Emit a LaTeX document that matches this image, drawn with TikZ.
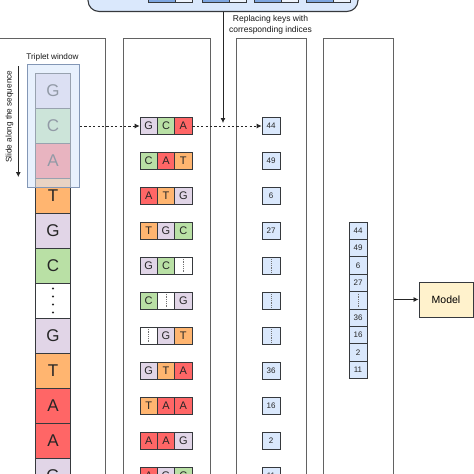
\documentclass[tikz,border=0pt]{standalone}
\usepackage{fontspec}
\setmainfont{Liberation Sans}
\usetikzlibrary{arrows.meta}
\definecolor{cG}{HTML}{E1D5E7}
\definecolor{cC}{HTML}{B9E0A5}
\definecolor{cA}{HTML}{FF6666}
\definecolor{cT}{HTML}{FFB570}
\definecolor{cD}{HTML}{FFFFFF}
\definecolor{cIdx}{HTML}{DAE8FC}
\definecolor{cKey}{HTML}{7EA6E0}
\definecolor{cVal}{HTML}{EEF4FD}
\definecolor{cModel}{HTML}{FFF2CC}
\definecolor{cBorder}{HTML}{36393D}
\definecolor{cPanel}{HTML}{626262}
\definecolor{cWin}{HTML}{DAE8FC}
\definecolor{cWinB}{HTML}{8397B6}
\newcommand\ltG{G}
\newcommand\ltC{C}
\newcommand\ltA{A}
\newcommand\ltT{T}
\newcommand\ltD{}
\tikzset{
  seqcell/.style={draw=cBorder, line width=0.9pt, minimum width=35pt, minimum height=35pt, inner sep=0pt, font=\fontsize{17}{17}\selectfont, text=black!85},
  tricell/.style={draw=cBorder, line width=0.8pt, minimum width=17.33pt, minimum height=17.5pt, inner sep=0pt, font=\fontsize{11}{11}\selectfont, text=black!85},
  idxcell/.style={draw=cBorder, fill=cIdx, line width=0.8pt, minimum width=18pt, minimum height=17.5pt, inner sep=0pt, font=\fontsize{8}{8}\selectfont, text=black!85},
  stackcell/.style={idxcell, minimum height=17.4pt},
  panel/.style={draw=cPanel, line width=1.3pt, inner sep=0pt, anchor=north west, minimum height=480pt},
  keycell/.style={draw=cBorder, line width=0.8pt, fill=cKey, inner sep=0pt, minimum height=30pt, anchor=south west},
  valcell/.style={keycell, fill=cVal},
  flow/.style={-{Latex[length=5pt,width=5pt]}, line width=0.8pt, draw=black!85},
  dotflow/.style={flow, dash pattern=on 2.2pt off 2.2pt},
  finedots/.style={draw=black!55, line width=0.6pt, dash pattern=on 0.6pt off 1.2pt},
  bigdots/.style={draw=black!85, line width=2.2pt, line cap=round, dash pattern=on 0pt off 8pt},
  lab/.style={font=\fontsize{8.2}{10.5}\selectfont, text=black!90, inner sep=0pt, align=center},
}
\begin{document}
\begin{tikzpicture}[x=1pt, y=-1pt]
\useasboundingbox (0,0) rectangle (474,474);
\clip (0,0) rectangle (474,474);
\fill[white] (0,0) rectangle (474,474);

% encoder box at top
\node[draw=cBorder, fill=cIdx, rounded corners=11pt, line width=1.1pt, minimum width=270pt, minimum height=60pt, anchor=south, inner sep=0pt] (enc) at (223,12) {};
\foreach \x [count=\j] in {148,201.5,253.5,306}{
  \node[keycell, minimum width=27pt] (kd\j) at (\x,3) {};
  \node[valcell, minimum width=17pt] (kl\j) at (\x+27,3) {};
}

% panels
\node[panel, minimum width=108pt] (p1) at (-3,38) {};
\node[panel, minimum width=87pt] (p2) at (123,38) {};
\node[panel, minimum width=70pt] (p3) at (236,38) {};
\node[panel, minimum width=70pt] (p4) at (323,38) {};

% sequence
\foreach \L/\c [count=\i from 0] in {G/cG, C/cC, A/cA, T/cT, G/cG, C/cC, {}/cD, G/cG, T/cT, A/cA, A/cA, G/cG}
  \node[seqcell, fill=\c] (s\i) at (53, 91+35*\i) {\L};
\draw[bigdots] ([yshift=-5.5pt]s6.north) -- ([yshift=5.5pt]s6.south);

% triplet window
\node[draw=cWinB, fill=cWin, fill opacity=0.6, line width=0.9pt, minimum width=52.3pt, minimum height=122.4pt, anchor=north west, inner sep=0pt] (win) at (26.7,64.3) {};
\node[lab] (winlab) at (52.5,57.5) {Triplet window};

% slide arrow
\coordinate (sa) at (18.3,66);
\coordinate (sb) at (18.3,177);
\draw[flow] (sa) -- (sb);
\node[lab, rotate=90] (slab) at (9.5,116.7) {Slide along the sequence};

% triplets
\foreach \a/\b/\c [count=\r from 0] in {G/C/A, C/A/T, A/T/G, T/G/C, G/C/D, C/D/G, D/G/T, G/T/A, T/A/A, A/A/G, A/G/C}{
  \node[tricell, fill=c\a] (ta\r) at (148.67, 126+35*\r) {\csname lt\a\endcsname};
  \node[tricell, fill=c\b] (tb\r) at (166, 126+35*\r) {\csname lt\b\endcsname};
  \node[tricell, fill=c\c] (tc\r) at (183.33, 126+35*\r) {\csname lt\c\endcsname};
}
\draw[finedots] ([yshift=-2pt]tc4.north) -- ([yshift=2pt]tc4.south);
\draw[finedots] ([yshift=-2pt]tb5.north) -- ([yshift=2pt]tb5.south);
\draw[finedots] ([yshift=-2pt]ta6.north) -- ([yshift=2pt]ta6.south);

% indices
\foreach \v [count=\r from 0] in {44,49,6,27,{},{},{},36,16,2,11}
  \node[idxcell] (i\r) at (271, 126+35*\r) {\v};
\foreach \r in {4,5,6}
  \draw[finedots] ([yshift=-2.5pt]i\r.north) -- ([yshift=2.5pt]i\r.south);

% stacked sequence
\foreach \v [count=\k from 0] in {44,49,6,27,{},36,16,2,11}
  \node[stackcell] (k\k) at (358, 230.7+17.4*\k) {\v};
\draw[finedots] ([yshift=-2.5pt]k4.north) -- ([yshift=2.5pt]k4.south);

% model
\node[draw=cBorder, fill=cModel, minimum width=54pt, minimum height=35pt, inner sep=0pt, font=\fontsize{10.5}{10.5}\selectfont, line width=0.9pt] (model) at (446,299.5) {Model};
\draw[flow] (p4.east |- model.west) -- (model.west);

% connectors
\draw[dotflow] (win.east |- s1.center) -- (ta0.west);
\draw[dotflow] (tc0.east) -- (i0.west);
\coordinate (repend) at (223,123);
\draw[flow] (enc.south) -- (repend);
\node[lab, font=\fontsize{8.5}{10.5}\selectfont] (replab) at (270.5,25) {Replacing keys with\\corresponding indices};
\end{tikzpicture}
\end{document}
